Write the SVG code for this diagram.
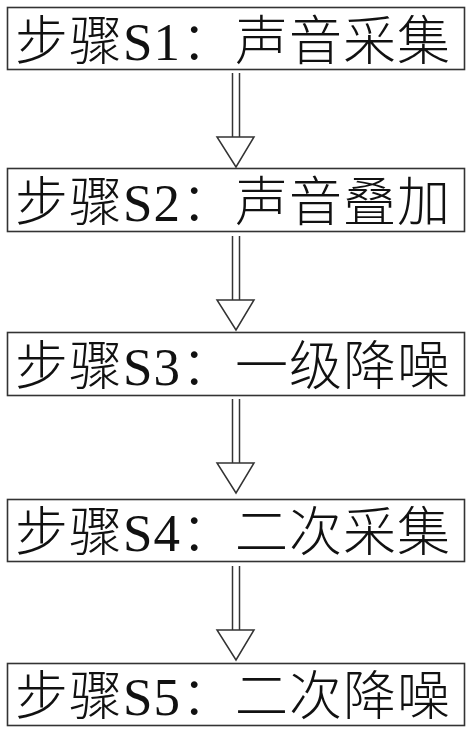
<svg xmlns="http://www.w3.org/2000/svg" xmlns:xlink="http://www.w3.org/1999/xlink" width="474" height="733" viewBox="0 0 474 733">
<style>
.box{fill:#fff;stroke:#333;stroke-width:1.6}
.lbl{font-family:"Liberation Serif","Noto Sans CJK SC",serif;font-size:53px;font-weight:300;letter-spacing:1px;fill:#111}
.shaft{stroke:#333;stroke-width:1.5;fill:none}
.head{fill:#fff;stroke:#333;stroke-width:1.5;stroke-linejoin:miter}
</style>
<defs>
<g id="arrow">
<line class="shaft" x1="232.5" y1="0" x2="232.5" y2="64"/>
<line class="shaft" x1="239.5" y1="0" x2="239.5" y2="64"/>
<polygon class="head" points="217,64 254,64 236,94"/>
</g>
</defs>
<rect x="0" y="0" width="474" height="733" fill="#fff"/>
<g id="connectors">
<use xlink:href="#arrow" transform="translate(0,73)"/>
<use xlink:href="#arrow" transform="translate(0,236)"/>
<use xlink:href="#arrow" transform="translate(0,399)"/>
<use xlink:href="#arrow" transform="translate(0,566)"/>
</g>
<g id="s1">
<rect class="box" x="7.5" y="7.5" width="457" height="62"/>
<text class="lbl" x="15" y="60">步骤S1：声音采集</text>
</g>
<g id="s2">
<rect class="box" x="7.5" y="168.5" width="457" height="63"/>
<text class="lbl" x="15" y="221">步骤S2：声音叠加</text>
</g>
<g id="s3">
<rect class="box" x="7.5" y="332.5" width="457" height="63"/>
<text class="lbl" x="15" y="385">步骤S3：一级降噪</text>
</g>
<g id="s4">
<rect class="box" x="7.5" y="499.5" width="457" height="62"/>
<text class="lbl" x="15" y="551">步骤S4：二次采集</text>
</g>
<g id="s5">
<rect class="box" x="7.5" y="663.5" width="457" height="62"/>
<text class="lbl" x="15" y="715">步骤S5：二次降噪</text>
</g>
</svg>
